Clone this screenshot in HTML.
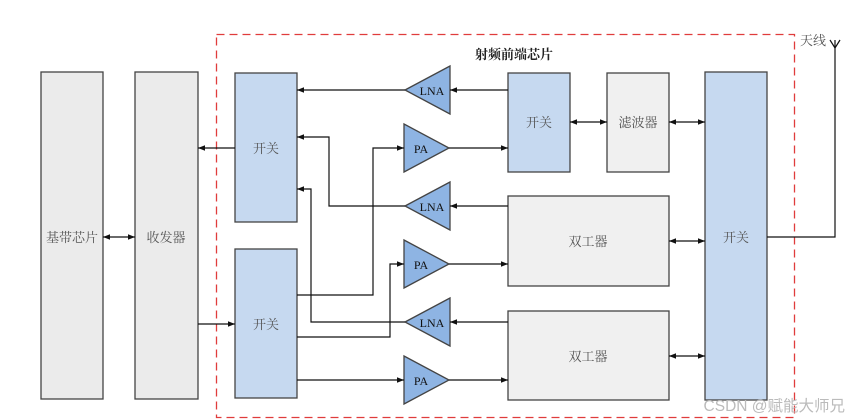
<!DOCTYPE html>
<html><head><meta charset="utf-8"><style>
html,body{margin:0;padding:0;background:#fff;}
svg{display:block;}
text{font-family:"Liberation Serif","Noto Serif CJK SC","Noto Sans CJK SC",serif;fill:#555;}
</style></head><body>
<svg width="851" height="420" viewBox="0 0 851 420" xmlns="http://www.w3.org/2000/svg">
<defs>
<marker id="a" viewBox="0 0 10 10" refX="10" refY="5" markerWidth="7" markerHeight="7" orient="auto-start-reverse" markerUnits="userSpaceOnUse"><path d="M0,1 L10,5 L0,9 z" fill="#111"/></marker>
</defs>
<rect x="216.5" y="34.5" width="578" height="383" fill="none" stroke="#e03c3c" stroke-width="1.3" stroke-dasharray="8,5"/>
<text x="514" y="59" font-size="13" font-weight="bold" text-anchor="middle" style="fill:#222">射频前端芯片</text>
<g stroke="#444" stroke-width="1.3">
<rect x="41" y="72" width="62" height="327" fill="#ebebeb"/>
<rect x="135" y="72" width="63" height="327" fill="#ebebeb"/>
<rect x="235" y="73" width="62" height="149" fill="#c6d9f0"/>
<rect x="235" y="249" width="62" height="149" fill="#c6d9f0"/>
<rect x="508" y="73" width="62" height="99" fill="#c6d9f0"/>
<rect x="607" y="73" width="62" height="99" fill="#f0f0f0"/>
<rect x="508" y="196" width="161" height="90" fill="#f0f0f0"/>
<rect x="508" y="311" width="161" height="89" fill="#f0f0f0"/>
<rect x="705" y="72" width="62" height="328" fill="#c6d9f0"/>
<polygon points="405,90 450,66 450,114" fill="#8eb4e3"/>
<polygon points="404,124 404,172 449,148" fill="#8eb4e3"/>
<polygon points="405,206 450,182 450,230" fill="#8eb4e3"/>
<polygon points="404,240 404,288 449,264" fill="#8eb4e3"/>
<polygon points="405,322 450,298 450,346" fill="#8eb4e3"/>
<polygon points="404,356 404,404 449,380" fill="#8eb4e3"/>
</g>
<g stroke="#111" stroke-width="1.2" fill="none">
<line x1="103" y1="237" x2="135" y2="237" marker-start="url(#a)" marker-end="url(#a)"/>
<line x1="235" y1="148" x2="198" y2="148" marker-end="url(#a)"/>
<line x1="198" y1="324" x2="235" y2="324" marker-end="url(#a)"/>
<line x1="405" y1="90" x2="297" y2="90" marker-end="url(#a)"/>
<line x1="508" y1="90" x2="450" y2="90" marker-end="url(#a)"/>
<polyline points="297,295 373,295 373,148 404,148" marker-end="url(#a)"/>
<line x1="449" y1="148" x2="508" y2="148" marker-end="url(#a)"/>
<line x1="508" y1="206" x2="450" y2="206" marker-end="url(#a)"/>
<polyline points="405,206 329,206 329,137 297,137" marker-end="url(#a)"/>
<polyline points="405,322 311,322 311,189 297,189" marker-end="url(#a)"/>
<line x1="508" y1="322" x2="450" y2="322" marker-end="url(#a)"/>
<polyline points="297,337 390,337 390,264 404,264" marker-end="url(#a)"/>
<line x1="449" y1="264" x2="508" y2="264" marker-end="url(#a)"/>
<line x1="297" y1="380" x2="404" y2="380" marker-end="url(#a)"/>
<line x1="449" y1="380" x2="508" y2="380" marker-end="url(#a)"/>
<line x1="570" y1="122" x2="607" y2="122" marker-start="url(#a)" marker-end="url(#a)"/>
<line x1="669" y1="122" x2="705" y2="122" marker-start="url(#a)" marker-end="url(#a)"/>
<line x1="669" y1="241" x2="705" y2="241" marker-start="url(#a)" marker-end="url(#a)"/>
<line x1="669" y1="356" x2="705" y2="356" marker-start="url(#a)" marker-end="url(#a)"/>
<polyline points="767,237 835,237 835,40"/>
<polyline points="830,40 835,48 840,40"/>
</g>
<g font-size="13" text-anchor="middle">
<text x="72" y="242">基带芯片</text>
<text x="166" y="242">收发器</text>
<text x="266" y="153">开关</text>
<text x="266" y="329">开关</text>
<text x="539" y="127">开关</text>
<text x="638" y="127">滤波器</text>
<text x="588" y="246">双工器</text>
<text x="588" y="361">双工器</text>
<text x="736" y="242">开关</text>
<text x="813" y="45">天线</text>
</g>
<g font-size="12" text-anchor="middle">
<text x="432" y="95" style="fill:#111">LNA</text>
<text x="421" y="153" style="fill:#111">PA</text>
<text x="432" y="211" style="fill:#111">LNA</text>
<text x="421" y="269" style="fill:#111">PA</text>
<text x="432" y="327" style="fill:#111">LNA</text>
<text x="421" y="385" style="fill:#111">PA</text>
</g>
<text x="845" y="411" font-size="15.5" text-anchor="end" style="fill:#bbb;font-family:'Liberation Sans','Noto Sans CJK SC',sans-serif">CSDN @赋能大师兄</text>
</svg>
</body></html>
